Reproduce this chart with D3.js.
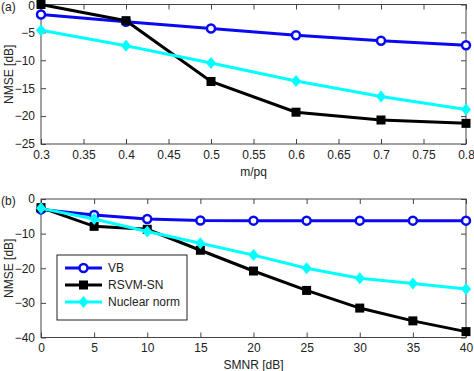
<!DOCTYPE html>
<html>
<head>
<meta charset="utf-8">
<script src="https://cdn.jsdelivr.net/npm/d3@7"></script>
<style>
  body { margin: 0; background: #fff; }
  svg { display: block; font-family: "Liberation Sans", Arial, sans-serif; }
</style>
</head>
<body>
<div id="vis"></div>
<script>
// Data ----------------------------------------------------------------------------------------------------------------
const seriesNames = ["VB", "RSVM-SN", "Nuclear norm"];

const ratioX = [0.3, 0.4, 0.5, 0.6, 0.7, 0.8];
const ratioVB = [-1.8, -3.1, -4.3, -5.5, -6.5, -7.3];
const ratioRSVM = [0, -2.9, -13.8, -19.3, -20.7, -21.3];
const ratioNuclear = [-4.6, -7.4, -10.5, -13.7, -16.5, -18.8];
const ratioXTicks = [0.3, 0.35, 0.4, 0.45, 0.5, 0.55, 0.6, 0.65, 0.7, 0.75, 0.8];
const ratioYTicks = [-25, -20, -15, -10, -5, 0];

const smnrX = [0, 5, 10, 15, 20, 25, 30, 35, 40];
const smnrVB = [-3.0, -4.6, -5.8, -6.2, -6.25, -6.25, -6.25, -6.25, -6.25];
const smnrRSVM = [-2.5, -7.9, -8.75, -14.8, -20.8, -26.4, -31.5, -35.2, -38.3];
const smnrNuclear = [-2.7, -5.8, -9.4, -12.8, -16.2, -20.0, -22.9, -24.4, -26.0];
const smnrXTicks = [0, 5, 10, 15, 20, 25, 30, 35, 40];
const smnrYTicks = [-40, -30, -20, -10, 0];

// Canvas --------------------------------------------------------------------------------------------------------------
const canvasWidth = 474;
const canvasHeight = 371;
const leftPadding = 41;
const rightEdge = 466;

const svg = d3.select("#vis")
  .append("svg")
  .attr("width", canvasWidth)
  .attr("height", canvasHeight);

const colors = ["#0a0af0", "#000000", "#00ffff"];
const tickFont = 12;

function drawPanel(opts) {
  const xScale = d3.scaleLinear().domain(opts.xDomain).range([leftPadding, rightEdge]);
  const yScale = d3.scaleLinear().domain(opts.yDomain).range([opts.bottom, opts.top]);
  const g = svg.append("g");

  // box + inward ticks
  g.append("rect")
    .attr("x", leftPadding).attr("y", opts.top)
    .attr("width", rightEdge - leftPadding).attr("height", opts.bottom - opts.top)
    .attr("fill", "none").attr("stroke", "#444").attr("stroke-width", 1);

  const axes = [
    [d3.axisBottom(xScale).tickValues(opts.xTicks).tickFormat(opts.xFormat).tickSize(-5).tickPadding(6), "translate(0," + opts.bottom + ")", true],
    [d3.axisTop(xScale).tickValues(opts.xTicks).tickSize(-5), "translate(0," + opts.top + ")", false],
    [d3.axisLeft(yScale).tickValues(opts.yTicks).tickSize(-5).tickPadding(6), "translate(" + leftPadding + ",0)", true],
    [d3.axisRight(yScale).tickValues(opts.yTicks).tickSize(-5), "translate(" + rightEdge + ",0)", false]
  ];
  axes.forEach(function(a) {
    const ax = g.append("g").attr("transform", a[1]).call(a[0]);
    ax.select(".domain").remove();
    ax.selectAll("line").attr("stroke", "#444");
    ax.selectAll("text")
      .style("font-size", tickFont + "px")
      .attr("fill", "#222");
    if (!a[2]) ax.selectAll("text").remove();
  });

  // keep the top tick label inside the picture
  if (opts.top < 6) {
    g.selectAll(".tick text").filter(d => d === 0 && opts.yTicks.includes(d)).attr("dy", "0.45em");
  }

  // x label
  g.append("text")
    .text(opts.xLabel)
    .attr("x", (leftPadding + rightEdge) / 2)
    .attr("y", opts.xLabelY)
    .attr("text-anchor", "middle")
    .style("font-size", "12px")
    .attr("fill", "#222");

  // y label
  g.append("text")
    .text("NMSE [dB]")
    .attr("transform", "translate(13," + (opts.top + opts.bottom) / 2 + ") rotate(-90)")
    .attr("text-anchor", "middle")
    .style("font-size", "12px")
    .attr("fill", "#222");

  // panel tag
  g.append("text")
    .text(opts.tag)
    .attr("x", 1)
    .attr("y", opts.top + 6)
    .style("font-size", "12px")
    .attr("fill", "#222");

  // lines + markers
  const line = d3.line().x(d => xScale(d[0])).y(d => yScale(d[1]));
  opts.series.forEach(function(vals, i) {
    const pts = opts.x.map((x, j) => [x, vals[j]]);
    g.append("path")
      .datum(pts)
      .attr("d", line)
      .attr("fill", "none")
      .attr("stroke", colors[i])
      .attr("stroke-width", 3);
    pts.forEach(function(p) {
      drawMarker(g, i, xScale(p[0]), yScale(p[1]));
    });
  });

  return { xScale: xScale, yScale: yScale, g: g };
}

function drawMarker(g, i, cx, cy) {
  if (i === 0) {
    g.append("circle")
      .attr("cx", cx).attr("cy", cy).attr("r", 4)
      .attr("fill", "#fff").attr("stroke", colors[0]).attr("stroke-width", 2.5);
  } else if (i === 1) {
    g.append("rect")
      .attr("x", cx - 4.5).attr("y", cy - 4.5).attr("width", 9).attr("height", 9)
      .attr("fill", colors[1]);
  } else {
    g.append("path")
      .attr("d", "M" + cx + "," + (cy - 6) + "L" + (cx + 5) + "," + cy + "L" + cx + "," + (cy + 6) + "L" + (cx - 5) + "," + cy + "Z")
      .attr("fill", colors[2]);
  }
}

// Panel (a) -----------------------------------------------------------------------------------------------------------
drawPanel({
  xDomain: [0.3, 0.8], yDomain: [-25, 0],
  top: 4.5, bottom: 144,
  xTicks: ratioXTicks, yTicks: ratioYTicks,
  xFormat: d3.format("~g"),
  x: ratioX, series: [ratioVB, ratioRSVM, ratioNuclear],
  xLabel: "m/pq", xLabelY: 176, tag: "(a)"
});

// Panel (b) -----------------------------------------------------------------------------------------------------------
drawPanel({
  xDomain: [0, 40], yDomain: [-40, 0],
  top: 199, bottom: 337.5,
  xTicks: smnrXTicks, yTicks: smnrYTicks,
  xFormat: d3.format("d"),
  x: smnrX, series: [smnrVB, smnrRSVM, smnrNuclear],
  xLabel: "SMNR [dB]", xLabelY: 369, tag: "(b)"
});

// Legend --------------------------------------------------------------------------------------------------------------
const legend = svg.append("g").attr("transform", "translate(57,255)");
legend.append("rect")
  .attr("width", 130).attr("height", 65)
  .attr("fill", "#fff").attr("stroke", "#222").attr("stroke-width", 1);
seriesNames.forEach(function(name, i) {
  const y = 13 + i * 17;
  legend.append("line")
    .attr("x1", 8).attr("x2", 45).attr("y1", y).attr("y2", y)
    .attr("stroke", colors[i]).attr("stroke-width", 3);
  drawMarker(legend, i, 26.5, y);
  legend.append("text")
    .text(name)
    .attr("x", 51).attr("y", y)
    .attr("dy", "0.35em")
    .style("font-size", "12px")
    .attr("fill", "#222");
});
</script>
</body>
</html>
